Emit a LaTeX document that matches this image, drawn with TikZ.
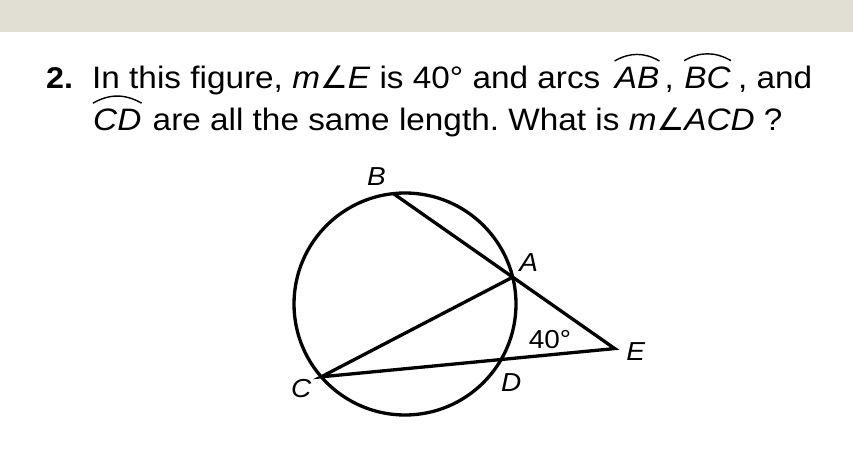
\documentclass[tikz,border=0pt]{standalone}
\usepackage{fontspec}
\setmainfont{Liberation Sans}[FakeStretch=1.075]
\newfontfamily\symfont{DejaVu Sans}
\usetikzlibrary{positioning}
\definecolor{bandgray}{RGB}{225,223,211}
\newcommand{\ang}{{\symfont\itshape ∠}}
\frenchspacing
\tikzset{
  qtext/.style={inner sep=0pt, font=\fontsize{31}{36}\selectfont},
  ptlabel/.style={inner sep=0pt, font=\fontsize{26}{30}\selectfont\itshape},
  arcmark/.style={line width=1.4pt, bend left=30},
  geo/.style={line width=3.3pt, line join=miter},
}

\begin{document}
\begin{tikzpicture}[x=1pt,y=1pt]
\useasboundingbox (0,0) rectangle (853,450);
\fill[bandgray] (0,418) rectangle (853,450);

% question text
\node[qtext, anchor=base west, font=\fontsize{30}{36}\selectfont\bfseries] (num) at (46,361.5) {2.};
\node[qtext, anchor=base west] (q1) at (92,361.5) {In this figure, \textit{m}\ang\textit{E} is 40° and arcs};
\node[qtext, right=14pt of q1.base east, anchor=base west] (ab) {\textit{AB}};
\node[qtext, right=5pt of ab.base east, anchor=base west] (q2) {,};
\node[qtext, right=10pt of q2.base east, anchor=base west] (bc) {\textit{BC}};
\node[qtext, right=7pt of bc.base east, anchor=base west] (q3) {,\ and};
\node[qtext, anchor=base west] (cd) at (93,319) {\textit{CD}};
\node[qtext, right=11pt of cd.base east, anchor=base west] (q4) {are all the same length. What is \textit{m}\ang\textit{ACD}\ ?};
\foreach \w in {ab,bc,cd}
  \draw[arcmark] ([yshift=6pt]\w.north west) to ([yshift=6pt]\w.north east);

% figure
\coordinate (O) at (405,146);
\coordinate (B) at ([shift={(96:111)}]O);
\coordinate (A) at ([shift={(14:111)}]O);
\coordinate (C) at ([shift={(221:111)}]O);
\coordinate (D) at ([shift={(330:111)}]O);
\coordinate (E) at (intersection of B--A and C--D);

\draw[geo] (O) circle[radius=111];
\draw[geo] (B) -- (E) -- (C) -- (A);

\node[ptlabel] (lB) at ([shift={(-17,17)}]B) {B};
\node[ptlabel] (lA) at ([shift={(16,15)}]A) {A};
\node[ptlabel] (lE) at ([shift={(21,-3)}]E) {E};
\node[ptlabel] (lC) at ([shift={(-20,-12)}]C) {C};
\node[ptlabel] (lD) at ([shift={(10,-23)}]D) {D};
\node[inner sep=0pt, font=\fontsize{26}{30}\selectfont] (ang) at (550,110) {40°};
\end{tikzpicture}
\end{document}
